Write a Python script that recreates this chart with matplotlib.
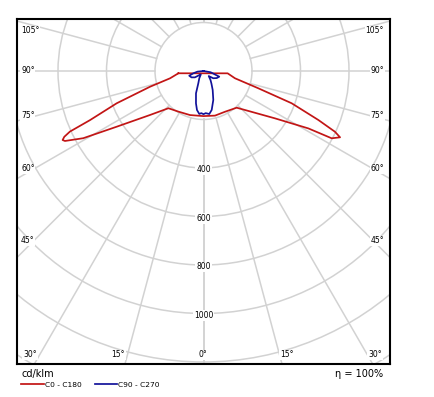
import numpy as np
import matplotlib.pyplot as plt
from matplotlib.patches import Circle

# luminous intensity (cd/klm), gamma in degrees from nadir
gamma_c0 = [0, 14.5, 27.8, 42.1, 46.8, 56.5, 61.3, 62.3, 64.1, 65.2, 66.9, 69.9, 72.5, 77.0, 84.5]
cd_c0 = [186, 190, 190, 204, 235, 354, 493, 597, 626, 597, 515, 387, 237, 133, 100]

gamma_c180 = [0, 17, 31.8, 43.3, 50.6, 57.3, 60.8, 63.2, 63.9, 64.7, 65.6, 66.6, 69.6, 73.6, 77.7, 84.8]
cd_c180 = [186, 190, 197, 211, 286, 425, 568, 640, 647, 635, 605, 510, 382, 230, 141, 104]

gamma_c90 = [0, 3, 7.7, 11.9, 18.7, 25.8, 32, 37.9, 46, 53.3, 62, 70.2, 73.5, 80, 90]
cd_c90 = [178, 174, 179, 164, 126, 87, 62, 47, 30, 50, 62, 69, 48, 30, 0]

gamma_c270 = [0, 3, 5.6, 9.5, 13.1, 18.6, 22.9, 29.9, 38, 46, 53.4, 62, 71.7, 77.3, 84, 90]
cd_c270 = [178, 174, 178, 163, 137, 97, 55, 35, 18, 25, 44, 56, 62, 43, 25, 0]

rings = [200, 400, 600, 800, 1000, 1200, 1400]
ring_labels = [400, 600, 800, 1000]
spokes = list(range(0, 181, 15))

W, H = 434, 397
PX = 0.2425          # pixels per cd
CX, CY = 203.5, 71   # pole of the diagram in pixels
L, R, T, B = 17, 390, 19, 363.5


def half(g, v, side):
    g = np.radians(g)
    v = np.asarray(v, float)
    return side * v * np.sin(g), -v * np.cos(g)


def curve(g_left, v_left, g_right, v_right):
    xl, yl = half(g_left, v_left, -1)
    xr, yr = half(g_right, v_right, 1)
    x = np.concatenate([xl[::-1], xr, xl[-1:]])
    y = np.concatenate([yl[::-1], yr, yl[-1:]])
    return x, y


def px(x, y):
    return (x - CX) / PX, (CY - y) / PX


fig = plt.figure(figsize=(W / 100, H / 100), dpi=100)
ax = fig.add_axes([L / W, 1 - B / H, (R - L) / W, (B - T) / H])
ax.set_xlim((L - CX) / PX, (R - CX) / PX)
ax.set_ylim((CY - B) / PX, (CY - T) / PX)
ax.set_xticks([])
ax.set_yticks([])
for s in ax.spines.values():
    s.set_linewidth(1.5)

grid_c = '#d2d2d2'
for r in rings:
    ax.add_patch(Circle((0, 0), r, fill=False, ec=grid_c, lw=1.1, zorder=1))
for a in spokes:
    for side in (-1, 1):
        t = np.radians(a)
        ax.plot([side * 200 * np.sin(t), side * 3000 * np.sin(t)],
                [-200 * np.cos(t), -3000 * np.cos(t)], color=grid_c, lw=1.1, zorder=1)

for r in ring_labels:
    ax.text(0, -(r + 8), str(r), ha='center', va='center', fontsize=5.5, zorder=3,
            bbox=dict(fc='white', ec='none', pad=0.6))

# angle labels sit at the frame, where the spokes leave it
side_rows = [('105°', 31), ('90°', 71), ('75°', 116), ('60°', 169), ('45°', 241)]
for txt, yy in side_rows:
    x0, y0 = px(21, yy)
    ax.text(x0, y0, txt, ha='left', va='center', fontsize=5.5, zorder=3,
            bbox=dict(fc='white', ec='none', pad=0.6))
    x1, y1 = px(384, yy)
    ax.text(x1, y1, txt, ha='right', va='center', fontsize=5.5, zorder=3,
            bbox=dict(fc='white', ec='none', pad=0.6))
for txt, xx in [('30°', 30), ('15°', 118.3), ('0°', 202.7), ('15°', 287), ('30°', 375)]:
    x0, y0 = px(xx, 355)
    ax.text(x0, y0, txt, ha='center', va='center', fontsize=5.5, zorder=3,
            bbox=dict(fc='white', ec='none', pad=0.6))

x, y = curve(gamma_c180, cd_c180, gamma_c0, cd_c0)
red, = ax.plot(x, y, color='#c21515', lw=1.25, zorder=4, label='C0 - C180')
x, y = curve(gamma_c270, cd_c270, gamma_c90, cd_c90)
blue, = ax.plot(x, y, color='#12129a', lw=1.25, zorder=5, label='C90 - C270')

fig.text(22 / W, 1 - 374 / H, 'cd/klm', ha='left', va='center', fontsize=7)
fig.text(383 / W, 1 - 374 / H, 'η = 100%', ha='right', va='center', fontsize=7)
ax.legend(handles=[red, blue], loc='center left', bbox_to_anchor=(21 / W, 1 - 384.5 / H),
          bbox_transform=fig.transFigure, ncol=2, frameon=False, fontsize=5.4,
          handlelength=3.0, handletextpad=0.15, columnspacing=1.8,
          borderpad=0, borderaxespad=0)

fig.savefig('out.png', dpi=100, facecolor='white')
